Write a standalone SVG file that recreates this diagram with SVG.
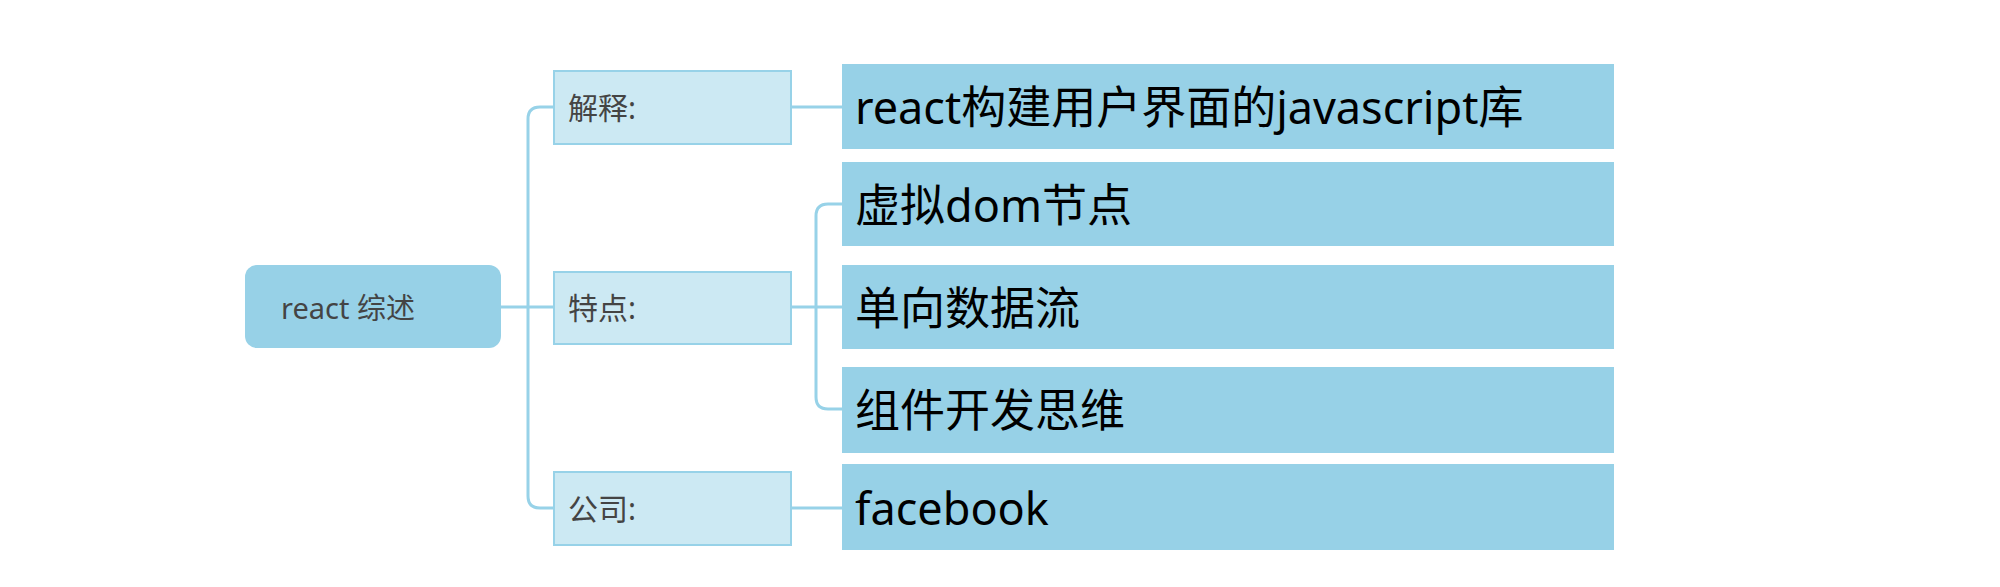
<svg xmlns="http://www.w3.org/2000/svg" width="2000" height="587" viewBox="0 0 2000 587">
<style>
.t{font-family:"Noto Sans","Noto Sans CJK SC",sans-serif;dominant-baseline:central}
.l1 rect{fill:#cce9f3;stroke:#97d2e8;stroke-width:2}
.l1 text{font-size:30px;fill:#444}
.lf rect{fill:#97d1e7}
.lf text{font-size:45px;fill:#000}
.c{fill:none;stroke:#97d2e8;stroke-width:3}
</style>
<rect width="2000" height="587" fill="#fff"/>
<g id="connectors" class="c">
<path d="M501 307H553"/>
<path d="M553 107H540Q528 107 528 119V496Q528 508 540 508H553"/>
<path d="M791 107H842"/>
<path d="M791 508H842"/>
<path d="M791 307H842"/>
<path d="M842 204H828Q816 204 816 216V397Q816 409 828 409H842"/>
</g>
<g id="root"><rect x="245" y="265" width="256" height="83" rx="12" fill="#97d1e7"/><text class="t" x="281" y="307" font-size="29" fill="#444">react 综述</text></g>
<g id="n1" class="l1"><rect x="554" y="71" width="237" height="73"/><text class="t" x="568" y="107">解释:</text></g>
<g id="n2" class="l1"><rect x="554" y="272" width="237" height="72"/><text class="t" x="568" y="307">特点:</text></g>
<g id="n3" class="l1"><rect x="554" y="472" width="237" height="73"/><text class="t" x="568" y="508">公司:</text></g>
<g id="leaf1" class="lf"><rect x="842" y="64" width="772" height="85"/><text class="t" x="855" y="106">react构建用户界面的javascript库</text></g>
<g id="leaf2" class="lf"><rect x="842" y="162" width="772" height="84"/><text class="t" x="855" y="204">虚拟dom节点</text></g>
<g id="leaf3" class="lf"><rect x="842" y="265" width="772" height="84"/><text class="t" x="855" y="307">单向数据流</text></g>
<g id="leaf4" class="lf"><rect x="842" y="367" width="772" height="86"/><text class="t" x="855" y="409">组件开发思维</text></g>
<g id="leaf5" class="lf"><rect x="842" y="464" width="772" height="86"/><text class="t" x="855" y="507">facebook</text></g>
</svg>
